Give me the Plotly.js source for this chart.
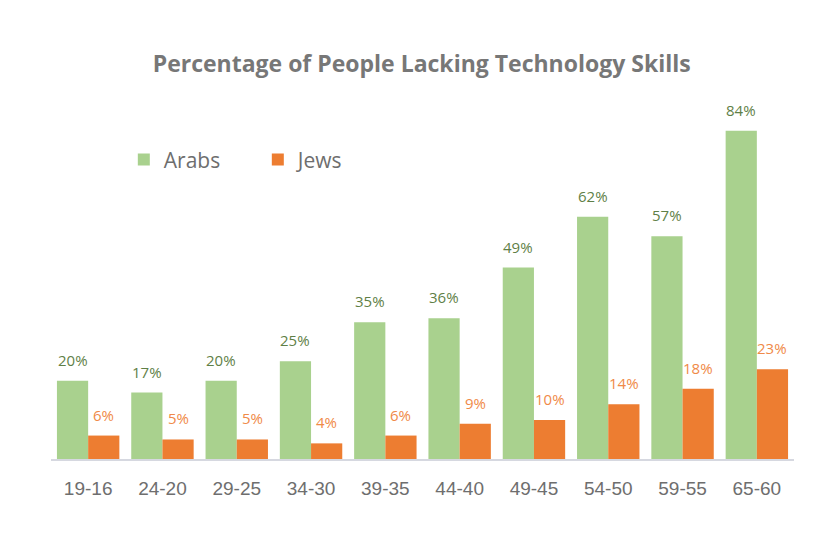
<!DOCTYPE html>
<html>
<head>
<meta charset="utf-8">
<script src="https://cdn.plot.ly/plotly-3.0.1.min.js"></script>
<style>html,body{margin:0;padding:0;background:#fff;}#chart{width:822px;height:537px;}</style>
</head>
<body>
<div id="chart"></div>
<script>
const categories = ["19-16","24-20","29-25","34-30","39-35","44-40","49-45","54-50","59-55","65-60"];
const arabs = [20,17,20,25,35,36,49,62,57,84];
const jews = [6,5,5,4,6,9,10,14,18,23];
const seriesNames = ["Arabs","Jews"];

const traces = [
  {
    type: "bar", name: seriesNames[0], x: categories, y: arabs,
    marker: {color: "#a9d18e"}, hoverinfo: "skip"
  },
  {
    type: "bar", name: seriesNames[1], x: categories, y: jews,
    marker: {color: "#ed7d31"}, hoverinfo: "skip"
  }
];

const labelFont = "Open Sans, sans-serif";
const annotations = [];
categories.forEach((c, i) => {
  annotations.push({
    x: c, y: arabs[i], xref: "x", yref: "y", text: arabs[i] + "%",
    showarrow: false, xshift: -15.6, yshift: 21, yanchor: "middle",
    font: {family: labelFont, size: 15, color: "#5f7f47"}
  });
  annotations.push({
    x: c, y: jews[i], xref: "x", yref: "y", text: jews[i] + "%",
    showarrow: false, xshift: 15.6, yshift: 21, yanchor: "middle",
    font: {family: labelFont, size: 15, color: "#f08a48"}
  });
});

const layout = {
  width: 822, height: 537,
  margin: {l: 51, r: 28, t: 100, b: 78},
  paper_bgcolor: "#ffffff", plot_bgcolor: "#ffffff",
  barmode: "group", bargap: 0.16, bargroupgap: 0,
  title: {
    text: "<b>Percentage of People Lacking Technology Skills</b>",
    font: {family: "Open Sans, sans-serif", size: 23, color: "#777777"},
    x: 0.513, xanchor: "center", y: 0.88, yanchor: "middle"
  },
  xaxis: {
    showline: true, linecolor: "#d6d8e0", linewidth: 2,
    ticks: "", showgrid: false, zeroline: false,
    tickfont: {family: "Liberation Sans, Arial, sans-serif", size: 19, color: "#6e6e6e"},
    ticklabelstandoff: 11
  },
  yaxis: {
    range: [0, 91.9], visible: false, showgrid: false, zeroline: false
  },
  legend: {
    orientation: "h", x: 0.098, xanchor: "left", y: 0.833, yanchor: "middle",
    font: {family: "Open Sans, sans-serif", size: 21, color: "#6e6e6e"},
    itemwidth: 30, traceorder: "normal", entrywidth: 89
  },
  annotations: annotations,
  showlegend: true
};

Plotly.newPlot("chart", traces, layout, {staticPlot: true, displayModeBar: false});
</script>
</body>
</html>
